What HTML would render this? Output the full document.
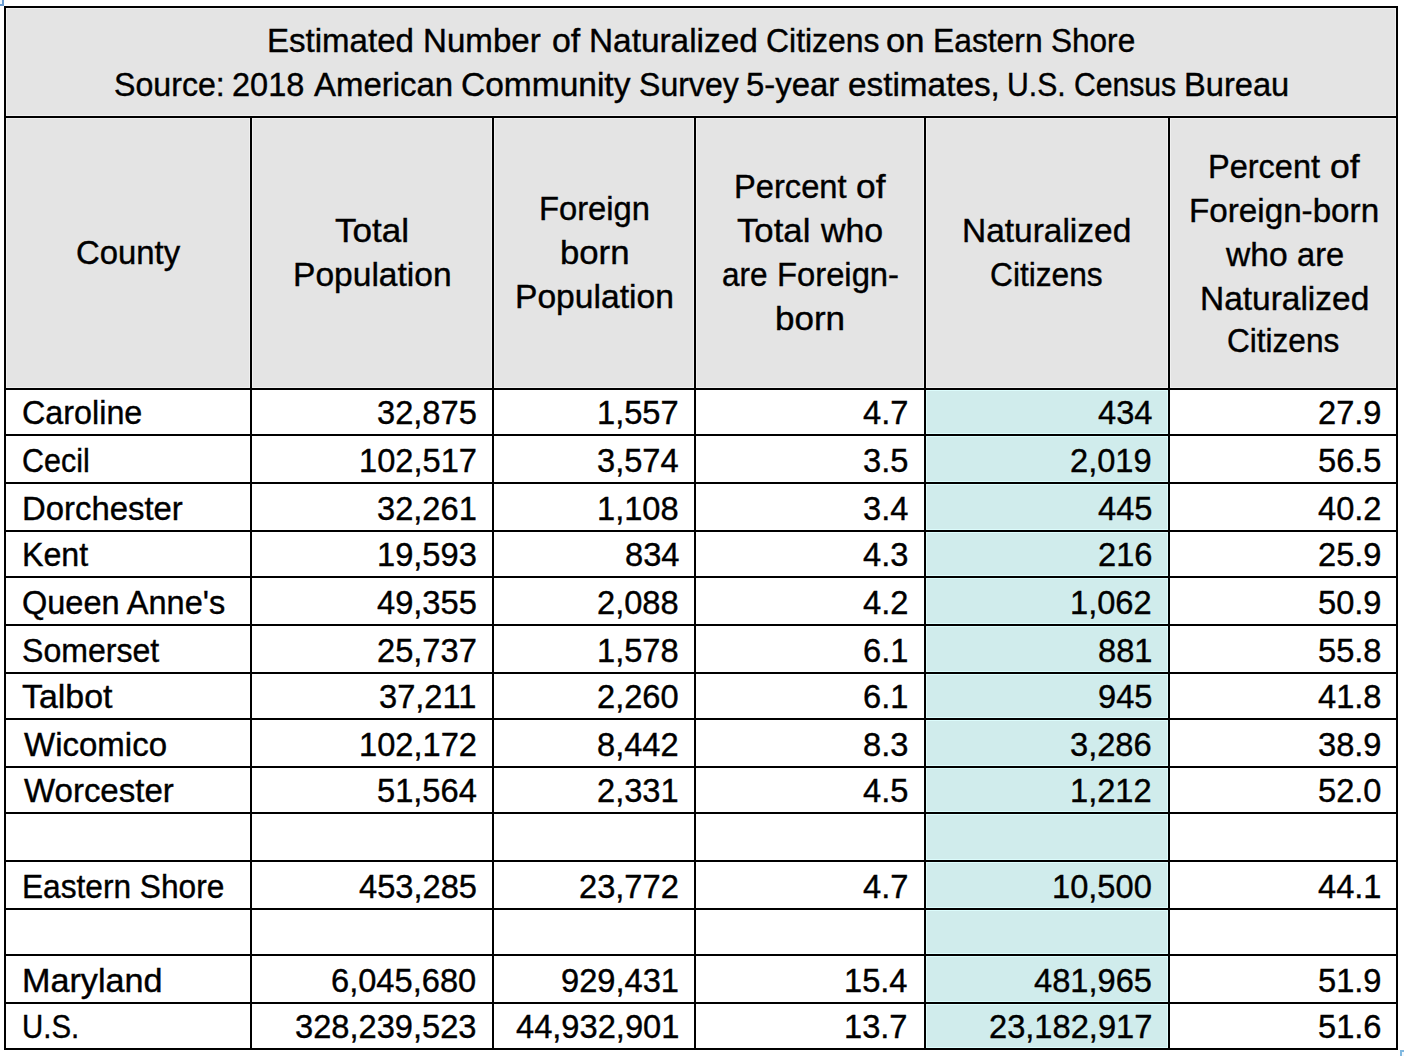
<!DOCTYPE html>
<html><head><meta charset="utf-8"><style>
html,body{margin:0;padding:0;background:#fff;width:1404px;height:1056px;overflow:hidden;position:relative}
.c{position:absolute;box-sizing:border-box}
.l{position:absolute;background:#000}
.t{position:absolute;white-space:nowrap;font-family:"Liberation Sans",sans-serif;font-size:34px;line-height:40px;color:#000;-webkit-text-stroke:0.4px #000;transform-origin:0 0}
.h{position:absolute;box-sizing:border-box}
</style></head><body>
<div class="c" style="left:6px;top:8px;width:1390px;height:108px;background:#e4e4e4;border:1px solid #f0f0f0"></div>
<div class="c" style="left:6px;top:118px;width:244px;height:270px;background:#e4e4e4;border:1px solid #f0f0f0"></div>
<div class="c" style="left:252px;top:118px;width:240px;height:270px;background:#e4e4e4;border:1px solid #f0f0f0"></div>
<div class="c" style="left:494px;top:118px;width:200px;height:270px;background:#e4e4e4;border:1px solid #f0f0f0"></div>
<div class="c" style="left:696px;top:118px;width:228px;height:270px;background:#e4e4e4;border:1px solid #f0f0f0"></div>
<div class="c" style="left:926px;top:118px;width:242px;height:270px;background:#e4e4e4;border:1px solid #f0f0f0"></div>
<div class="c" style="left:1170px;top:118px;width:226px;height:270px;background:#e4e4e4;border:1px solid #f0f0f0"></div>
<div class="c" style="left:926px;top:390px;width:242px;height:44px;background:#d0ecec;border:1px solid #dcfcfc"></div>
<div class="c" style="left:926px;top:436px;width:242px;height:46px;background:#d0ecec;border:1px solid #dcfcfc"></div>
<div class="c" style="left:926px;top:484px;width:242px;height:46px;background:#d0ecec;border:1px solid #dcfcfc"></div>
<div class="c" style="left:926px;top:532px;width:242px;height:44px;background:#d0ecec;border:1px solid #dcfcfc"></div>
<div class="c" style="left:926px;top:578px;width:242px;height:46px;background:#d0ecec;border:1px solid #dcfcfc"></div>
<div class="c" style="left:926px;top:626px;width:242px;height:46px;background:#d0ecec;border:1px solid #dcfcfc"></div>
<div class="c" style="left:926px;top:674px;width:242px;height:44px;background:#d0ecec;border:1px solid #dcfcfc"></div>
<div class="c" style="left:926px;top:720px;width:242px;height:46px;background:#d0ecec;border:1px solid #dcfcfc"></div>
<div class="c" style="left:926px;top:768px;width:242px;height:44px;background:#d0ecec;border:1px solid #dcfcfc"></div>
<div class="c" style="left:926px;top:814px;width:242px;height:46px;background:#d0ecec;border:1px solid #dcfcfc"></div>
<div class="c" style="left:926px;top:862px;width:242px;height:46px;background:#d0ecec;border:1px solid #dcfcfc"></div>
<div class="c" style="left:926px;top:910px;width:242px;height:44px;background:#d0ecec;border:1px solid #dcfcfc"></div>
<div class="c" style="left:926px;top:956px;width:242px;height:46px;background:#d0ecec;border:1px solid #dcfcfc"></div>
<div class="c" style="left:926px;top:1004px;width:242px;height:44px;background:#d0ecec;border:1px solid #dcfcfc"></div>
<div class="l" style="left:4px;top:6px;width:1394px;height:2px"></div>
<div class="l" style="left:4px;top:116px;width:1394px;height:2px"></div>
<div class="l" style="left:4px;top:388px;width:1394px;height:2px"></div>
<div class="l" style="left:4px;top:434px;width:1394px;height:2px"></div>
<div class="l" style="left:4px;top:482px;width:1394px;height:2px"></div>
<div class="l" style="left:4px;top:530px;width:1394px;height:2px"></div>
<div class="l" style="left:4px;top:576px;width:1394px;height:2px"></div>
<div class="l" style="left:4px;top:624px;width:1394px;height:2px"></div>
<div class="l" style="left:4px;top:672px;width:1394px;height:2px"></div>
<div class="l" style="left:4px;top:718px;width:1394px;height:2px"></div>
<div class="l" style="left:4px;top:766px;width:1394px;height:2px"></div>
<div class="l" style="left:4px;top:812px;width:1394px;height:2px"></div>
<div class="l" style="left:4px;top:860px;width:1394px;height:2px"></div>
<div class="l" style="left:4px;top:908px;width:1394px;height:2px"></div>
<div class="l" style="left:4px;top:954px;width:1394px;height:2px"></div>
<div class="l" style="left:4px;top:1002px;width:1394px;height:2px"></div>
<div class="l" style="left:4px;top:1048px;width:1394px;height:2px"></div>
<div class="l" style="left:4px;top:6px;width:2px;height:1044px"></div>
<div class="l" style="left:250px;top:116px;width:2px;height:934px"></div>
<div class="l" style="left:492px;top:116px;width:2px;height:934px"></div>
<div class="l" style="left:694px;top:116px;width:2px;height:934px"></div>
<div class="l" style="left:924px;top:116px;width:2px;height:934px"></div>
<div class="l" style="left:1168px;top:116px;width:2px;height:934px"></div>
<div class="l" style="left:1396px;top:6px;width:2px;height:1044px"></div>
<div class="h" style="left:0;top:0;width:4px;height:6px;background:#eef6fc;border-right:2px solid #6c9cd0;border-bottom:2px solid #6c9cd0"></div>
<div class="h" style="left:1400px;top:1050px;width:4px;height:6px;background:#f4f9fd;border-left:2px solid #80b8e0;border-top:2px solid #80b8e0"></div>
<div class="t" style="left:267.06px;top:20px;transform:scaleX(0.9717)">Estimated</div>
<div class="t" style="left:422.55px;top:20px;transform:scaleX(0.9738)">Number</div>
<div class="t" style="left:552.20px;top:20px;transform:scaleX(0.9961)">of</div>
<div class="t" style="left:588.94px;top:20px;transform:scaleX(0.9812)">Naturalized</div>
<div class="t" style="left:765.96px;top:20px;transform:scaleX(0.9384)">Citizens</div>
<div class="t" style="left:886.38px;top:20px;transform:scaleX(1.0169)">on</div>
<div class="t" style="left:933.13px;top:20px;transform:scaleX(0.9350)">Eastern</div>
<div class="t" style="left:1051.07px;top:20px;transform:scaleX(0.9277)">Shore</div>
<div class="t" style="left:113.65px;top:64px;transform:scaleX(0.9452)">Source:</div>
<div class="t" style="left:232.24px;top:64px;transform:scaleX(0.9562)">2018</div>
<div class="t" style="left:314.00px;top:64px;transform:scaleX(0.9690)">American</div>
<div class="t" style="left:461.41px;top:64px;transform:scaleX(0.9852)">Community</div>
<div class="t" style="left:638.76px;top:64px;transform:scaleX(0.9426)">Survey</div>
<div class="t" style="left:746.03px;top:64px;transform:scaleX(0.9669)">5-year</div>
<div class="t" style="left:847.52px;top:64px;transform:scaleX(0.9802)">estimates,</div>
<div class="t" style="left:1007.23px;top:64px;transform:scaleX(0.8869)">U.S.</div>
<div class="t" style="left:1073.91px;top:64px;transform:scaleX(0.8863)">Census</div>
<div class="t" style="left:1183.98px;top:64px;transform:scaleX(0.9600)">Bureau</div>
<div class="t" style="left:75.63px;top:232px;transform:scaleX(0.9669)">County</div>
<div class="t" style="left:334.80px;top:210px;transform:scaleX(1.0304)">Total</div>
<div class="t" style="left:293.43px;top:254px;transform:scaleX(0.9874)">Population</div>
<div class="t" style="left:539.08px;top:188px;transform:scaleX(0.9616)">Foreign</div>
<div class="t" style="left:559.76px;top:232px;transform:scaleX(1.0212)">born</div>
<div class="t" style="left:515.02px;top:276px;transform:scaleX(0.9887)">Population</div>
<div class="t" style="left:733.88px;top:166px;transform:scaleX(0.9609)">Percent</div>
<div class="t" style="left:855.76px;top:166px;transform:scaleX(1.0391)">of</div>
<div class="t" style="left:737.20px;top:210px;transform:scaleX(1.0219)">Total</div>
<div class="t" style="left:820.80px;top:210px;transform:scaleX(0.9958)">who</div>
<div class="t" style="left:722.27px;top:254px;transform:scaleX(0.9273)">are</div>
<div class="t" style="left:777.47px;top:254px;transform:scaleX(0.9637)">Foreign-</div>
<div class="t" style="left:775.14px;top:298px;transform:scaleX(1.0290)">born</div>
<div class="t" style="left:961.83px;top:210px;transform:scaleX(0.9841)">Naturalized</div>
<div class="t" style="left:989.87px;top:254px;transform:scaleX(0.9317)">Citizens</div>
<div class="t" style="left:1208.49px;top:146px;transform:scaleX(0.9557)">Percent</div>
<div class="t" style="left:1329.95px;top:146px;transform:scaleX(1.0463)">of</div>
<div class="t" style="left:1189.05px;top:190px;transform:scaleX(0.9767)">Foreign-born</div>
<div class="t" style="left:1226.19px;top:234px;transform:scaleX(0.9878)">who</div>
<div class="t" style="left:1296.54px;top:234px;transform:scaleX(0.9591)">are</div>
<div class="t" style="left:1200.23px;top:278px;transform:scaleX(0.9841)">Naturalized</div>
<div class="t" style="left:1227.27px;top:320px;transform:scaleX(0.9283)">Citizens</div>
<div class="t" style="left:22.15px;top:392px;transform:scaleX(0.9502)">Caroline</div>
<div class="t" style="left:376.74px;top:392px;transform:scaleX(0.9600)">32,875</div>
<div class="t" style="left:597.29px;top:392px;transform:scaleX(0.9600)">1,557</div>
<div class="t" style="left:862.50px;top:392px;transform:scaleX(0.9600)">4.7</div>
<div class="t" style="left:1097.61px;top:392px;transform:scaleX(0.9600)">434</div>
<div class="t" style="left:1317.95px;top:392px;transform:scaleX(0.9600)">27.9</div>
<div class="t" style="left:22.20px;top:440px;transform:scaleX(0.8957)">Cecil</div>
<div class="t" style="left:358.59px;top:440px;transform:scaleX(0.9600)">102,517</div>
<div class="t" style="left:597.29px;top:440px;transform:scaleX(0.9600)">3,574</div>
<div class="t" style="left:862.50px;top:440px;transform:scaleX(0.9600)">3.5</div>
<div class="t" style="left:1070.39px;top:440px;transform:scaleX(0.9600)">2,019</div>
<div class="t" style="left:1317.95px;top:440px;transform:scaleX(0.9600)">56.5</div>
<div class="t" style="left:22.07px;top:488px;transform:scaleX(0.9667)">Dorchester</div>
<div class="t" style="left:376.74px;top:488px;transform:scaleX(0.9600)">32,261</div>
<div class="t" style="left:597.29px;top:488px;transform:scaleX(0.9600)">1,108</div>
<div class="t" style="left:862.50px;top:488px;transform:scaleX(0.9600)">3.4</div>
<div class="t" style="left:1097.61px;top:488px;transform:scaleX(0.9600)">445</div>
<div class="t" style="left:1317.95px;top:488px;transform:scaleX(0.9600)">40.2</div>
<div class="t" style="left:21.51px;top:534px;transform:scaleX(0.9460)">Kent</div>
<div class="t" style="left:376.74px;top:534px;transform:scaleX(0.9600)">19,593</div>
<div class="t" style="left:624.51px;top:534px;transform:scaleX(0.9600)">834</div>
<div class="t" style="left:862.50px;top:534px;transform:scaleX(0.9600)">4.3</div>
<div class="t" style="left:1097.61px;top:534px;transform:scaleX(0.9600)">216</div>
<div class="t" style="left:1317.95px;top:534px;transform:scaleX(0.9600)">25.9</div>
<div class="t" style="left:22.44px;top:582px;transform:scaleX(0.9561)">Queen Anne&#39;s</div>
<div class="t" style="left:376.74px;top:582px;transform:scaleX(0.9600)">49,355</div>
<div class="t" style="left:597.29px;top:582px;transform:scaleX(0.9600)">2,088</div>
<div class="t" style="left:862.50px;top:582px;transform:scaleX(0.9600)">4.2</div>
<div class="t" style="left:1070.39px;top:582px;transform:scaleX(0.9600)">1,062</div>
<div class="t" style="left:1317.95px;top:582px;transform:scaleX(0.9600)">50.9</div>
<div class="t" style="left:21.56px;top:630px;transform:scaleX(0.9431)">Somerset</div>
<div class="t" style="left:376.74px;top:630px;transform:scaleX(0.9600)">25,737</div>
<div class="t" style="left:597.29px;top:630px;transform:scaleX(0.9600)">1,578</div>
<div class="t" style="left:862.50px;top:630px;transform:scaleX(0.9600)">6.1</div>
<div class="t" style="left:1097.61px;top:630px;transform:scaleX(0.9600)">881</div>
<div class="t" style="left:1317.95px;top:630px;transform:scaleX(0.9600)">55.8</div>
<div class="t" style="left:22.00px;top:676px;transform:scaleX(0.9969)">Talbot</div>
<div class="t" style="left:379.16px;top:676px;transform:scaleX(0.9600)">37,211</div>
<div class="t" style="left:597.29px;top:676px;transform:scaleX(0.9600)">2,260</div>
<div class="t" style="left:862.50px;top:676px;transform:scaleX(0.9600)">6.1</div>
<div class="t" style="left:1097.61px;top:676px;transform:scaleX(0.9600)">945</div>
<div class="t" style="left:1317.95px;top:676px;transform:scaleX(0.9600)">41.8</div>
<div class="t" style="left:23.90px;top:724px;transform:scaleX(0.9704)">Wicomico</div>
<div class="t" style="left:358.59px;top:724px;transform:scaleX(0.9600)">102,172</div>
<div class="t" style="left:597.29px;top:724px;transform:scaleX(0.9600)">8,442</div>
<div class="t" style="left:862.50px;top:724px;transform:scaleX(0.9600)">8.3</div>
<div class="t" style="left:1070.39px;top:724px;transform:scaleX(0.9600)">3,286</div>
<div class="t" style="left:1317.95px;top:724px;transform:scaleX(0.9600)">38.9</div>
<div class="t" style="left:23.90px;top:770px;transform:scaleX(0.9703)">Worcester</div>
<div class="t" style="left:376.74px;top:770px;transform:scaleX(0.9600)">51,564</div>
<div class="t" style="left:597.29px;top:770px;transform:scaleX(0.9600)">2,331</div>
<div class="t" style="left:862.50px;top:770px;transform:scaleX(0.9600)">4.5</div>
<div class="t" style="left:1070.39px;top:770px;transform:scaleX(0.9600)">1,212</div>
<div class="t" style="left:1317.95px;top:770px;transform:scaleX(0.9600)">52.0</div>
<div class="t" style="left:22.14px;top:866px;transform:scaleX(0.9308)">Eastern Shore</div>
<div class="t" style="left:358.59px;top:866px;transform:scaleX(0.9600)">453,285</div>
<div class="t" style="left:579.14px;top:866px;transform:scaleX(0.9600)">23,772</div>
<div class="t" style="left:862.50px;top:866px;transform:scaleX(0.9600)">4.7</div>
<div class="t" style="left:1052.24px;top:866px;transform:scaleX(0.9600)">10,500</div>
<div class="t" style="left:1317.95px;top:866px;transform:scaleX(0.9600)">44.1</div>
<div class="t" style="left:21.99px;top:960px;transform:scaleX(1.0050)">Maryland</div>
<div class="t" style="left:331.37px;top:960px;transform:scaleX(0.9600)">6,045,680</div>
<div class="t" style="left:560.99px;top:960px;transform:scaleX(0.9600)">929,431</div>
<div class="t" style="left:844.35px;top:960px;transform:scaleX(0.9600)">15.4</div>
<div class="t" style="left:1034.09px;top:960px;transform:scaleX(0.9600)">481,965</div>
<div class="t" style="left:1317.95px;top:960px;transform:scaleX(0.9600)">51.9</div>
<div class="t" style="left:22.27px;top:1006px;transform:scaleX(0.8642)">U.S.</div>
<div class="t" style="left:295.06px;top:1006px;transform:scaleX(0.9600)">328,239,523</div>
<div class="t" style="left:515.61px;top:1006px;transform:scaleX(0.9600)">44,932,901</div>
<div class="t" style="left:844.35px;top:1006px;transform:scaleX(0.9600)">13.7</div>
<div class="t" style="left:988.71px;top:1006px;transform:scaleX(0.9600)">23,182,917</div>
<div class="t" style="left:1317.95px;top:1006px;transform:scaleX(0.9600)">51.6</div>
</body></html>
